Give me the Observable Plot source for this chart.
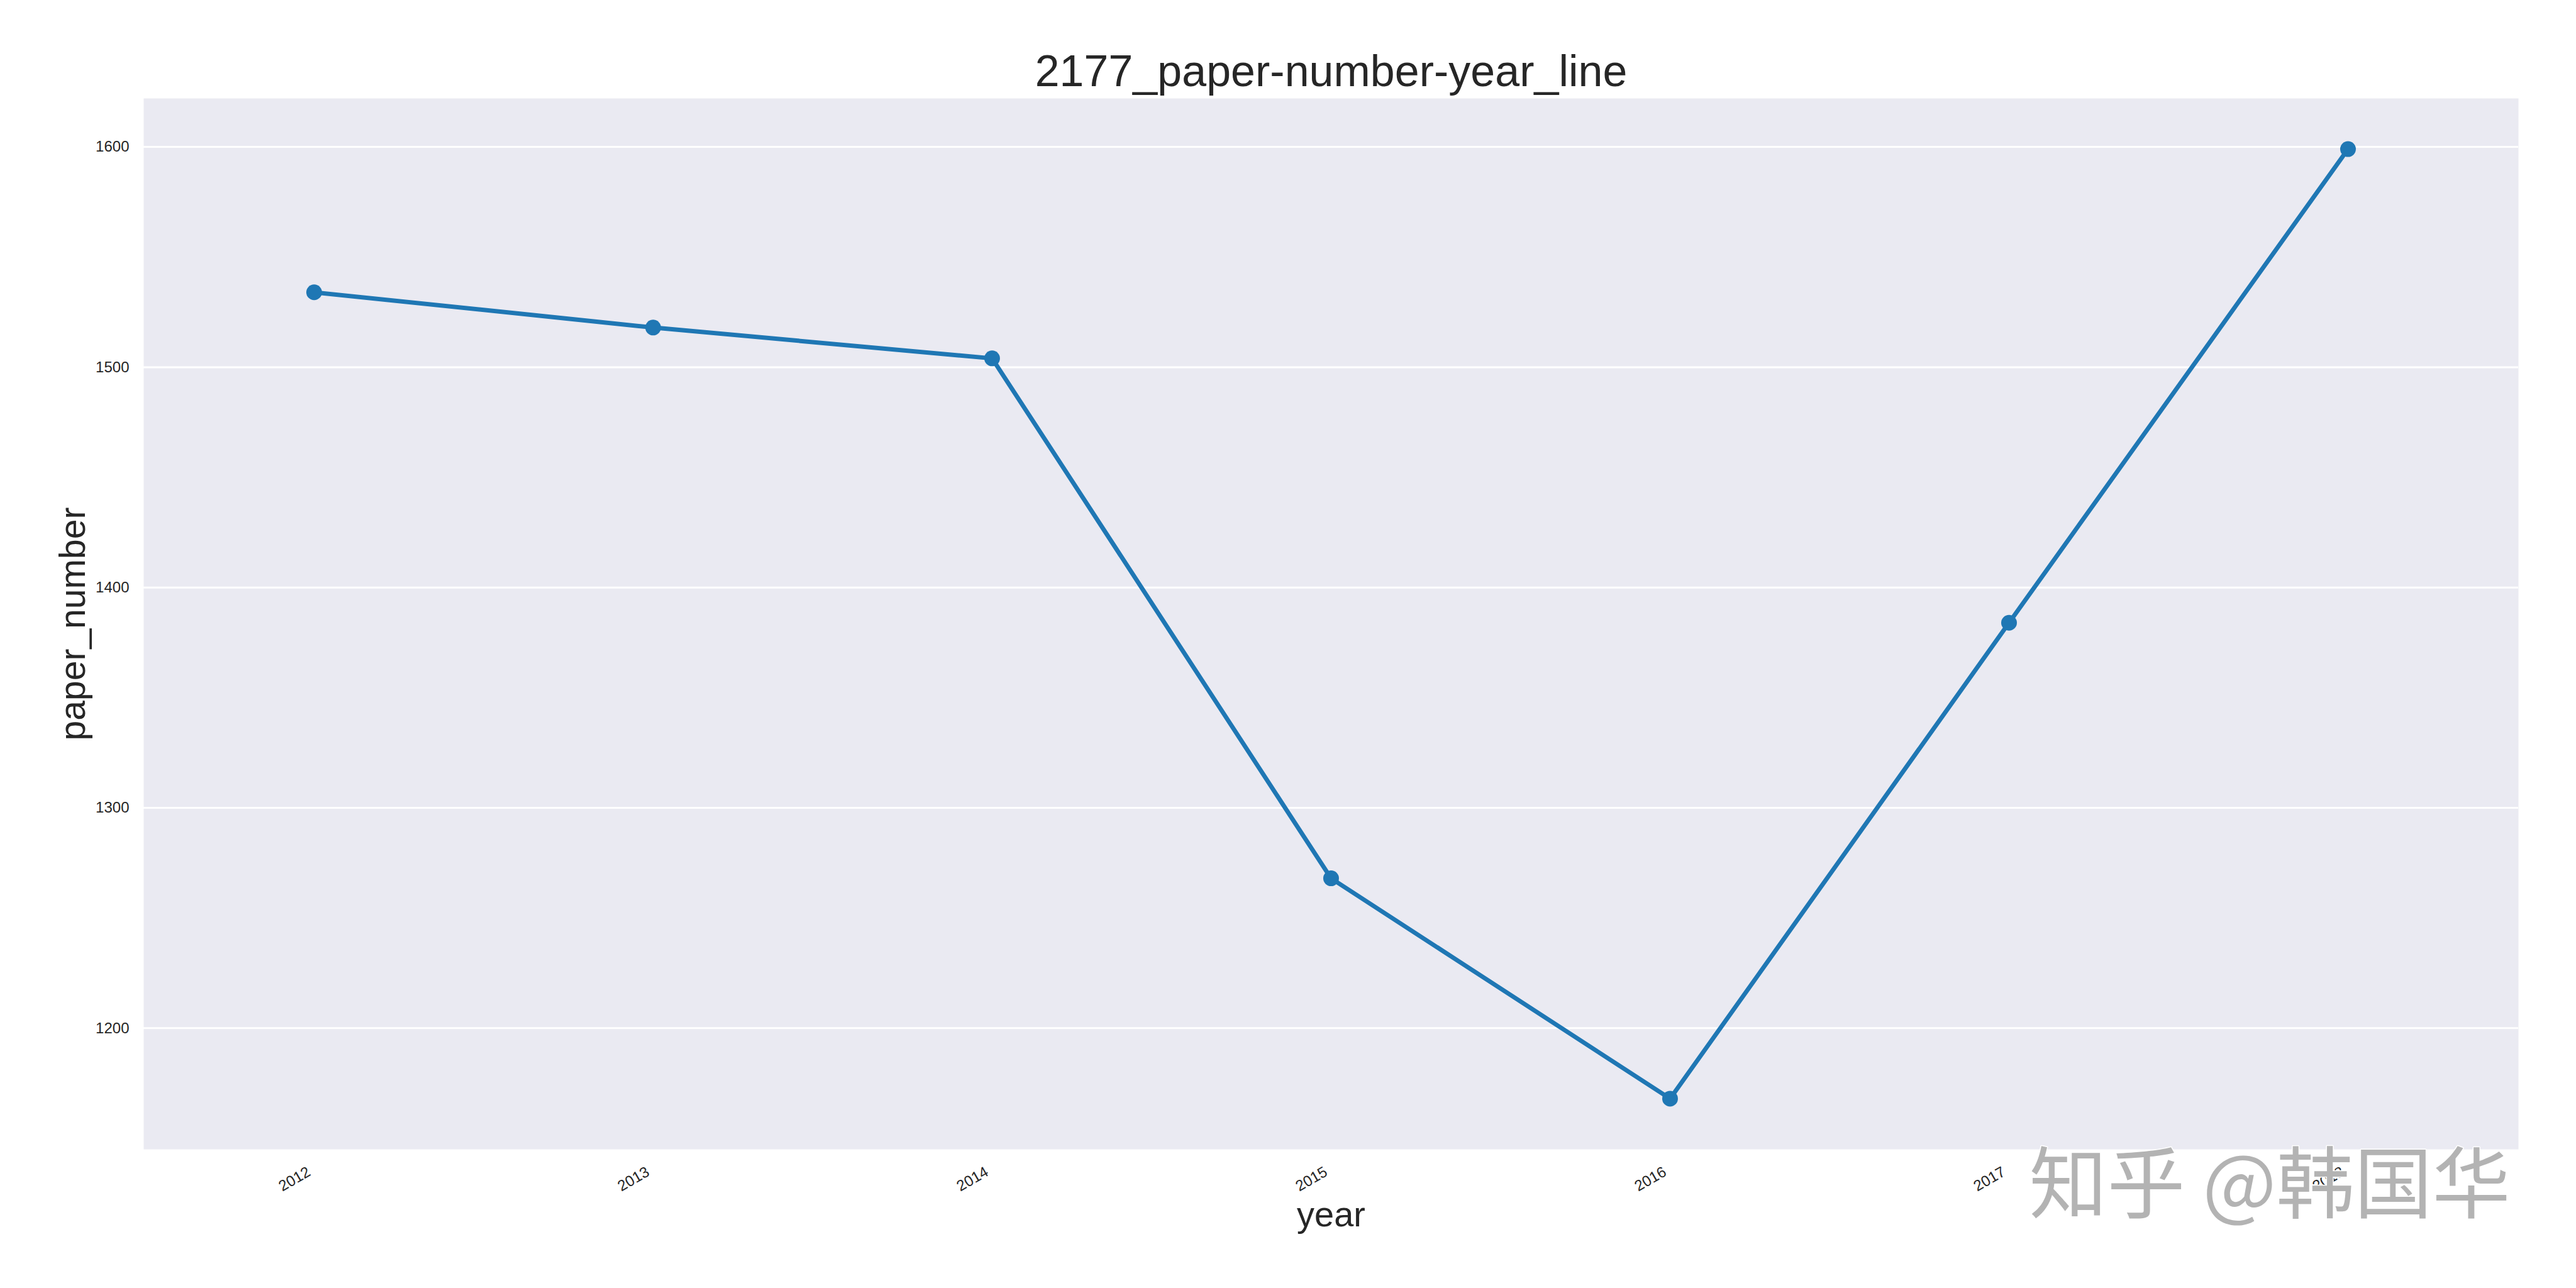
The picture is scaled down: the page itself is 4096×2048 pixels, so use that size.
<!DOCTYPE html>
<html><head><meta charset="utf-8">
<script src="https://cdn.jsdelivr.net/npm/d3@7"></script>
<script src="https://cdn.jsdelivr.net/npm/@observablehq/plot@0.6"></script>
<style>html,body{margin:0;padding:0;background:#fff} svg{display:block}</style>
</head><body><div id="chart"></div>
<script>
const years = ["2012", "2013", "2014", "2015", "2016", "2017", "2018"];
const paperNumber = [1534, 1518, 1504, 1268, 1168, 1384, 1599];
const yTicks = [1200, 1300, 1400, 1500, 1600];
const title = "2177_paper-number-year_line";
const xLabel = "year";
const yLabel = "paper_number";
const watermark = "知乎 @韩国华";

const data = years.map((year, i) => ({year, value: paperNumber[i]}));
const ink = "#262626";

const chart = Plot.plot({
  width: 4096,
  height: 2048,
  marginLeft: 228,
  marginRight: 92,
  marginTop: 156,
  marginBottom: 221,
  style: {fontFamily: "'Liberation Sans', Arial, sans-serif", color: ink, background: "#fff", overflow: "visible"},
  x: {type: "point", domain: years, padding: 0.5},
  y: {domain: [1145, 1622]},
  marks: [
    Plot.frame({fill: "#eaeaf2", stroke: null}),
    Plot.gridY(yTicks, {stroke: "#fff", strokeWidth: 3, strokeOpacity: 1}),
    Plot.axisY(yTicks, {tickSize: 0, tickPadding: 23, fontSize: 24, label: null, fill: ink, tickFormat: d => String(d)}),
    Plot.axisX({tickSize: 0, tickRotate: -30, fontSize: 24, tickPadding: 30, dx: -8, dy: 4, label: null, fill: ink}),
    Plot.line(data, {x: "year", y: "value", stroke: "#1f77b4", strokeWidth: 7}),
    Plot.dot(data, {x: "year", y: "value", r: 12.5, fill: "#1f77b4", stroke: null}),
    Plot.text([title], {text: d => d, frameAnchor: "top", dy: -69, fontSize: 70, fill: ink}),
    Plot.text([xLabel], {text: d => d, frameAnchor: "bottom", dy: 122, fontSize: 56, fill: ink}),
    Plot.text([yLabel], {text: d => d, frameAnchor: "left", textAnchor: "middle", dx: -112, rotate: -90, fontSize: 57, fill: ink}),
    Plot.text([watermark], {text: d => d, frameAnchor: "bottom-right", textAnchor: "end", dx: -13, dy: 99,
      fontSize: 124, fontWeight: "normal", fontFamily: "'Noto Sans CJK SC'", fill: "#b3b3b3",
      stroke: "#fff", strokeWidth: 3})
  ]
});
document.getElementById("chart").appendChild(chart);
</script>
</body></html>
